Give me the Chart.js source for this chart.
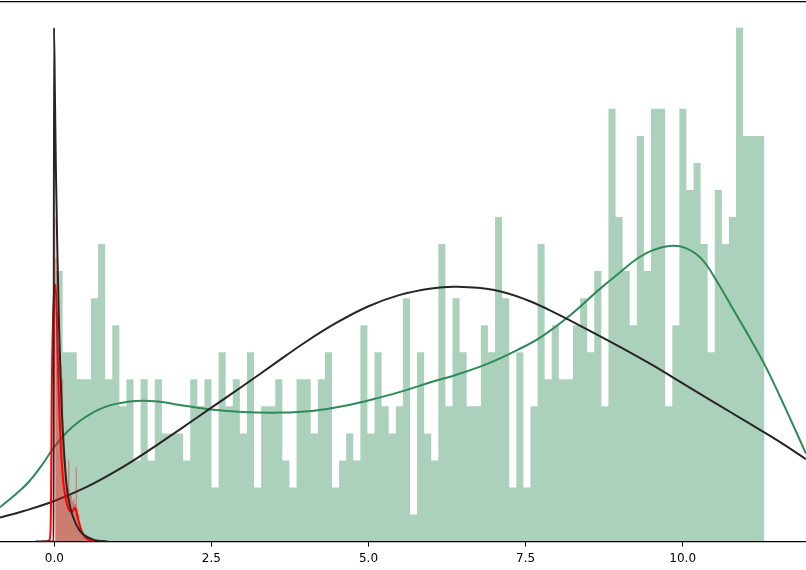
<!DOCTYPE html>
<html>
<head>
<meta charset="utf-8">
<script src="https://cdn.jsdelivr.net/npm/chart.js@4"></script>
<style>
  html, body { margin: 0; padding: 0; background: #fff; }
</style>
</head>
<body>
<canvas id="histChart" width="806" height="570"></canvas>
<script>
// x axis ticks
const tickValues = [0, 2.5, 5, 7.5, 10];
const tickLabels = ['0.0', '2.5', '5.0', '7.5', '10.0'];

// green histogram, 100 equal bins
const greenStart = 0.02;
const greenWidth = 0.1128;
const greenCounts = [
  10, 7, 7, 6, 6, 9, 11, 6, 8, 5,
  6, 3, 6, 3, 6, 4, 4, 4, 3, 6,
  5, 6, 2, 7, 5, 6, 4, 7, 2, 5,
  5, 6, 3, 2, 6, 6, 4, 6, 7, 2,
  3, 4, 3, 8, 4, 7, 5, 4, 5, 9,
  1, 7, 4, 3, 11, 5, 9, 7, 5, 5,
  8, 7, 12, 9, 2, 7, 2, 5, 11, 6,
  8, 6, 6, 8, 9, 7, 10, 5, 16, 12,
  10, 8, 15, 10, 16, 16, 5, 8, 16, 13,
  14, 11, 7, 13, 11, 12, 19, 15, 15, 15
];

// red histogram, narrow bins near zero
const redStart = 0.0;
const redWidth = 0.02;
const redHeights = [
  12, 10.5, 8.5, 7.2, 7.0, 6.5, 6.0, 4.0, 3.0, 2.4,
  2.0, 3.0, 1.8, 1.7, 1.5, 1.6, 1.4, 2.75, 1.2, 1.0,
  0.7, 0.5, 0.4, 0.3, 0.25, 0.2, 0.1, 0.1, 0.05, 0.05
];

// green kde
const greenKdeX = [-0.864, -0.6, -0.4, -0.2, 0.0, 0.2, 0.4, 0.6, 0.8, 1.0, 1.3, 1.65, 2.0, 2.5, 3.0, 3.6, 4.1, 4.65, 5.2, 5.6, 6.0, 6.4, 6.9, 7.4, 7.75, 8.2, 8.7, 9.0, 9.25, 9.5, 9.8, 10.05, 10.3, 10.55, 10.8, 11.1, 11.35, 11.65, 11.962];
const greenKdeY = [1.27, 1.78, 2.22, 2.82, 3.5, 4.05, 4.45, 4.75, 4.97, 5.1, 5.2, 5.18, 5.05, 4.88, 4.79, 4.77, 4.83, 5.03, 5.34, 5.6, 5.9, 6.17, 6.58, 7.12, 7.57, 8.35, 9.38, 9.95, 10.42, 10.75, 10.93, 10.85, 10.45, 9.6, 8.6, 7.4, 6.33, 4.85, 3.25];

// broad fitted curve (dark)
const wideFitX = [-0.864, -0.5, 0, 0.5, 1.0, 1.5, 2.0, 2.5, 3.0, 3.5, 4.0, 4.5, 5.0, 5.5, 6.0, 6.4, 7.0, 7.5, 8.0, 8.5, 9.0, 9.5, 10.0, 10.5, 11.0, 11.5, 11.962];
const wideFitY = [0.89, 1.12, 1.5, 2.0, 2.63, 3.36, 4.15, 4.95, 5.75, 6.57, 7.38, 8.1, 8.7, 9.12, 9.36, 9.42, 9.3, 8.95, 8.42, 7.82, 7.2, 6.55, 5.85, 5.15, 4.45, 3.75, 3.05];

// narrow fitted curve (dark)
const narrowFitX = [-0.3, -0.01, -0.005, 0.01, 0.025, 0.05, 0.075, 0.1, 0.125, 0.15, 0.2, 0.25, 0.3, 0.4, 0.5, 0.6, 0.7, 0.85];
const narrowFitY = [0, 0, 19.0, 16.5, 13.8, 10.6, 8.0, 6.1, 4.6, 3.5, 2.0, 1.3, 0.9, 0.42, 0.2, 0.09, 0.03, 0];

// red kde
const redKdeX = [-0.2, -0.12, -0.08, -0.06, -0.05, -0.04, -0.02, 0.0, 0.02, 0.04, 0.06, 0.08, 0.107, 0.148, 0.2, 0.24, 0.28, 0.33, 0.37, 0.45, 0.56, 0.65];
const redKdeY = [0, 0, 0.05, 0.4, 2.0, 5.5, 8.3, 9.3, 9.5, 8.3, 6.3, 4.85, 3.37, 2.1, 1.4, 1.15, 1.1, 1.26, 0.9, 0.3, 0.05, 0];

// turn bin heights into step points (left edges + closing edge)
function binSteps(start, width, heights) {
    const pts = heights.map((h, i) => ({ x: start + i * width, y: h }));
    pts.push({ x: start + heights.length * width, y: 0 });
    return pts;
}

function curve(xs, ys) {
    return xs.map((x, i) => ({ x: x, y: ys[i] }));
}

const dark = '#262626';

const ctx = document.getElementById('histChart').getContext('2d');

const histChart = new Chart(ctx, {
    type: 'line',
    data: {
        datasets: [
            {
                label: 'green hist',
                data: binSteps(greenStart, greenWidth, greenCounts),
                stepped: true,
                fill: 'origin',
                backgroundColor: 'rgba(46, 139, 87, 0.4)',
                borderWidth: 0,
                order: 6
            },
            {
                label: 'green kde',
                data: curve(greenKdeX, greenKdeY),
                borderColor: '#2e8b57',
                borderWidth: 2,
                tension: 0.4,
                fill: false,
                order: 5
            },
            {
                label: 'wide fit',
                data: curve(wideFitX, wideFitY),
                borderColor: dark,
                borderWidth: 2,
                tension: 0.4,
                fill: false,
                order: 4
            },
            {
                label: 'red hist',
                data: binSteps(redStart, redWidth, redHeights),
                stepped: true,
                fill: 'origin',
                backgroundColor: 'rgba(255, 0, 0, 0.4)',
                borderWidth: 0,
                order: 3
            },
            {
                label: 'red kde',
                data: curve(redKdeX, redKdeY),
                borderColor: '#ff0000',
                borderWidth: 2,
                cubicInterpolationMode: 'monotone',
                fill: false,
                order: 2
            },
            {
                label: 'narrow fit',
                data: curve(narrowFitX, narrowFitY),
                borderColor: dark,
                borderWidth: 2,
                cubicInterpolationMode: 'monotone',
                fill: false,
                order: 1
            }
        ]
    },
    options: {
        responsive: false,
        animation: false,
        devicePixelRatio: 1,
        layout: { padding: { top: 2, bottom: -1, left: 0, right: 0 } },
        elements: { point: { radius: 0 } },
        plugins: {
            legend: { display: false },
            tooltip: { enabled: false }
        },
        scales: {
            x: {
                type: 'linear',
                position: 'bottom',
                min: -0.864,
                max: 11.962,
                afterBuildTicks: (axis) => {
                    axis.ticks = tickValues.map(v => ({ value: v }));
                },
                ticks: {
                    callback: (v, i) => tickLabels[i],
                    color: '#000',
                    font: { family: 'DejaVu Sans', size: 12, lineHeight: 0.87 },
                    padding: 7,
                    maxRotation: 0,
                    autoSkip: false
                },
                grid: {
                    display: true,
                    drawOnChartArea: false,
                    drawTicks: true,
                    tickLength: 5,
                    tickWidth: 1,
                    tickColor: '#000'
                },
                border: { display: true, color: '#000', width: 1.2 }
            },
            top: {
                type: 'linear',
                position: 'top',
                min: 0,
                max: 1,
                ticks: { display: false },
                grid: { display: false, drawTicks: false },
                border: { display: true, color: '#000', width: 1.2 }
            },
            y: {
                type: 'linear',
                min: 0,
                max: 19.95,
                display: false
            }
        }
    }
});
</script>
</body>
</html>
